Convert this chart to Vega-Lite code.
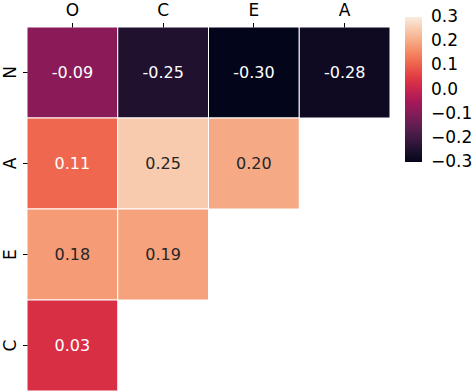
{
  "$schema": "https://vega.github.io/schema/vega-lite/v6.json",
  "width": 363,
  "height": 364,
  "autosize": {"type": "none"},
  "padding": {"left": 27, "top": 27, "right": 84, "bottom": 0},
  "background": "white",
  "config": {"view": {"stroke": null}},
  "data": {
    "values": [
      {"row": "N", "col": "O", "v": -0.09},
      {"row": "N", "col": "C", "v": -0.25},
      {"row": "N", "col": "E", "v": -0.30},
      {"row": "N", "col": "A", "v": -0.28},
      {"row": "A", "col": "O", "v": 0.11},
      {"row": "A", "col": "C", "v": 0.25},
      {"row": "A", "col": "E", "v": 0.20},
      {"row": "E", "col": "O", "v": 0.18},
      {"row": "E", "col": "C", "v": 0.19},
      {"row": "C", "col": "O", "v": 0.03}
    ]
  },
  "transform": [
    {"calculate": "replace(format(datum.v, '.2f'), '\u2212', '-')", "as": "label"}
  ],
  "encoding": {
    "x": {
      "field": "col", "type": "nominal",
      "scale": {"domain": ["O", "C", "E", "A"], "paddingInner": 0, "paddingOuter": 0},
      "axis": {"orient": "top", "title": null, "domain": false, "labelAngle": 0,
               "labelFont": "DejaVu Sans", "labelFontSize": 17, "labelColor": "black",
               "tickColor": "black", "tickSize": 4.5, "labelPadding": 3}
    },
    "y": {
      "field": "row", "type": "nominal",
      "scale": {"domain": ["N", "A", "E", "C"], "paddingInner": 0, "paddingOuter": 0},
      "axis": {"title": null, "domain": false, "labelAngle": -90, "labelAlign": "center",
               "labelBaseline": "bottom",
               "labelFont": "DejaVu Sans", "labelFontSize": 17, "labelColor": "black",
               "tickColor": "black", "tickSize": 4.5, "labelPadding": 3}
    }
  },
  "layer": [
    {
      "mark": {"type": "rect", "stroke": "white", "strokeWidth": 1},
      "encoding": {
        "color": {
          "field": "v", "type": "quantitative",
          "scale": {
            "domain": [-0.3, -0.2143, -0.1286, -0.0429, 0.0429, 0.1286, 0.2143, 0.3],
            "range": ["#03051a", "#35193e", "#701f57", "#ad1759", "#e13342", "#f37651", "#f6b48f", "#faebdd"],
            "interpolate": "rgb"
          },
          "legend": {
            "orient": "none", "legendX": 378, "legendY": -10, "direction": "vertical",
            "title": null, "gradientLength": 145, "gradientThickness": 17,
            "gradientStrokeWidth": 0,
            "values": [-0.3, -0.2, -0.1, 0, 0.1, 0.2, 0.3], "format": ".1f",
            "labelFont": "DejaVu Sans", "labelFontSize": 17, "labelColor": "black",
            "labelOffset": 9, "labelBaseline": "middle", "labelOverlap": false,
            "encode": {"labels": {"update": {"baseline": {"value": "middle"}}}}
          }
        }
      }
    },
    {
      "mark": {"type": "text", "font": "DejaVu Sans", "fontSize": 16},
      "encoding": {
        "text": {"field": "label", "type": "nominal"},
        "color": {"condition": {"test": "datum.v > 0.15", "value": "#262626"}, "value": "white"}
      }
    }
  ]
}
